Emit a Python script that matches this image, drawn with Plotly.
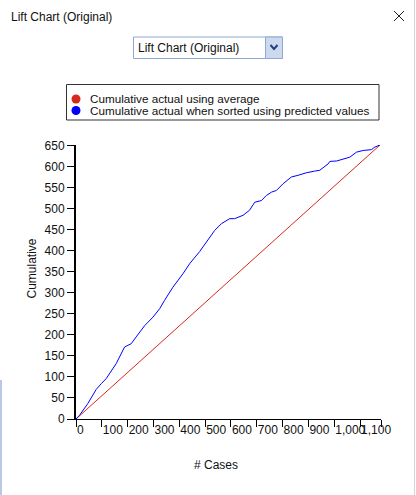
import plotly.graph_objects as go

W, H = 416, 495
L, R, T, B = 76, 35, 145, 76

# cumulative actual when sorted using predicted values
cases_sorted = [0, 14, 46, 78, 98, 117, 156, 188, 201, 214, 233, 266, 298, 324, 343, 375,
                414, 440, 479, 505, 537, 563, 595, 614, 647, 672, 692, 718, 737, 757, 776,
                802, 834, 860, 892, 924, 944, 976, 983, 1009, 1034, 1060, 1086, 1112, 1144,
                1157, 1177]
cum_sorted = [0, 9, 37, 70, 84, 96, 132, 171, 175, 179, 195, 222, 242, 262, 282, 313,
              345, 369, 398, 420, 448, 464, 476, 476, 484, 496, 515, 519, 531, 539, 543,
              559, 575, 579, 585, 589, 591, 606, 612, 613, 618, 622, 634, 638, 640,
              646, 651]

# cumulative actual using average
cases_avg = [0, 1177]
cum_avg = [0, 651]

x_ticks = [0, 100, 200, 300, 400, 500, 600, 700, 800, 900, 1000, 1100, 1181]
x_labels = ["0", "100", "200", "300", "400", "500", "600", "700", "800", "900",
            "1,000", "1,100", ""]
y_ticks = list(range(0, 651, 50))

legend_names = ["Cumulative actual using average",
                "Cumulative actual when sorted using predicted values"]
red = "#d6281c"
blue = "#0000ff"

pw, ph = W - L - R, H - T - B


def px(x):
    return (x - L) / pw


def py(y):
    return (H - B - y) / ph


font = "Liberation Sans"

fig = go.Figure()
fig.add_trace(go.Scatter(x=cases_avg, y=cum_avg, mode="lines",
                         line=dict(color=red, width=1), name=legend_names[0]))
fig.add_trace(go.Scatter(x=cases_sorted, y=cum_sorted, mode="lines",
                         line=dict(color=blue, width=1), name=legend_names[1]))

fig.update_xaxes(range=[0, 1181], tickvals=x_ticks, ticktext=x_labels, tickangle=0,
                 showgrid=False, zeroline=False, showline=True, linecolor="black",
                 linewidth=1, ticks="outside", ticklen=7, tickcolor="black",
                 ticklabelposition="outside right",
                 tickfont=dict(family=font, size=12, color="#111"))
fig.update_yaxes(range=[0, 651], tickvals=y_ticks, showgrid=False, zeroline=False,
                 showline=True, linecolor="black", linewidth=2, ticks="outside",
                 ticklen=7, tickcolor="black",
                 tickfont=dict(family=font, size=12, color="#111"))

shapes = [
    # dropdown box and button
    dict(type="rect", x0=px(133.5), x1=px(282.5), y0=py(37), y1=py(58.5),
         line=dict(color="#8fa8d4", width=1), fillcolor="white"),
    dict(type="rect", x0=px(265.5), x1=px(282.5), y0=py(37), y1=py(58.5),
         line=dict(color="#8fa8d4", width=1), fillcolor="#cdd9ee"),
    dict(type="path", path=f"M {px(270.5)},{py(45)} L {px(274)},{py(49)} L {px(277.5)},{py(45)}",
         line=dict(color="#23407e", width=2)),
    # close cross
    dict(type="line", x0=px(394), x1=px(404), y0=py(11), y1=py(21), line=dict(color="#222", width=1)),
    dict(type="line", x0=px(394), x1=px(404), y0=py(21), y1=py(11), line=dict(color="#222", width=1)),
    # legend box and dots
    dict(type="rect", x0=px(66.5), x1=px(379), y0=py(84.5), y1=py(120),
         line=dict(color="#333", width=1), fillcolor="white"),
    dict(type="circle", x0=px(71.5), x1=px(80.5), y0=py(94.5), y1=py(103.5),
         line=dict(width=0), fillcolor=red),
    dict(type="circle", x0=px(71.5), x1=px(80.5), y0=py(106), y1=py(115),
         line=dict(width=0), fillcolor=blue),
    # window edges
    dict(type="line", x0=px(414.5), x1=px(414.5), y0=py(0), y1=py(495),
         line=dict(color="#d4d4d4", width=1)),
    dict(type="rect", x0=px(0), x1=px(2), y0=py(380), y1=py(495),
         line=dict(width=0), fillcolor="#b9c8e6"),
]
for s in shapes:
    s.update(xref="paper", yref="paper")

annotations = [
    dict(text="Lift Chart (Original)", x=px(9), y=py(16.5), xanchor="left",
         font=dict(size=12, color="#111")),
    dict(text="Lift Chart (Original)", x=px(136), y=py(48), xanchor="left",
         font=dict(size=12, color="#111")),
    dict(text=legend_names[0], x=px(87.5), y=py(98.5), xanchor="left",
         font=dict(size=11.7, color="#111")),
    dict(text=legend_names[1], x=px(87.5), y=py(110.5), xanchor="left",
         font=dict(size=11.7, color="#111")),
    dict(text="Cumulative", x=px(22), y=py(268.5), textangle=-90,
         font=dict(size=12, color="#111")),
    dict(text="# Cases", x=px(215.5), y=py(465), font=dict(size=12, color="#111")),
]
for a in annotations:
    a.update(xref="paper", yref="paper", showarrow=False, yanchor="middle")
    a["font"]["family"] = font

fig.update_layout(width=W, height=H, margin=dict(l=L, r=R, t=T, b=B),
                  paper_bgcolor="white", plot_bgcolor="white", showlegend=False,
                  shapes=shapes, annotations=annotations)

# the page has a default 8px body margin; drop it so the figure fills the window
fig.write_html("out.html", config={"displayModeBar": False},
               post_script="document.body.style.margin='0';")
